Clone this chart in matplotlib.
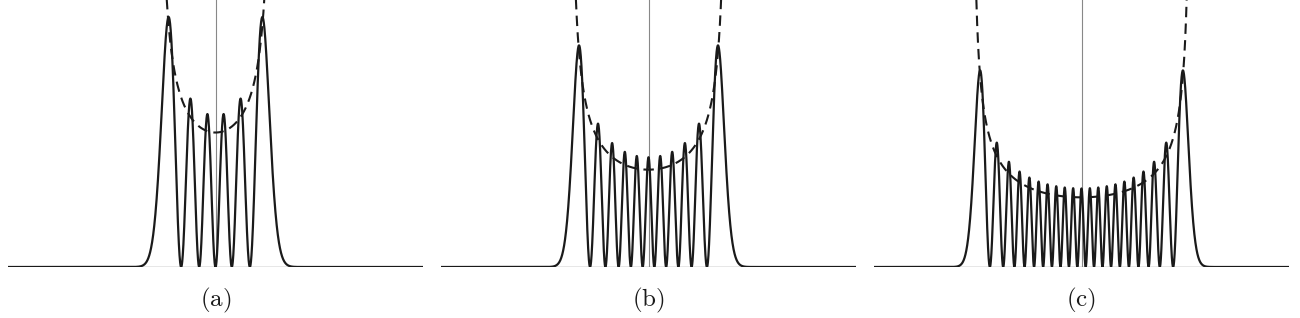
import numpy as np
import matplotlib.pyplot as plt

plt.rcParams['mathtext.fontset'] = 'cm'

# quantum numbers of the three panels and their captions
levels = [5, 10, 20]
captions = ['(a)', '(b)', '(c)']
x_half = 12.2


def psi_sq(n, x):
    # |psi_n|^2 for the harmonic oscillator (hbar = m = omega = 1)
    p0 = np.pi ** -0.25 * np.exp(-x ** 2 / 2)
    if n == 0:
        return p0 ** 2
    p1 = np.sqrt(2) * x * p0
    for k in range(1, n):
        p0, p1 = p1, np.sqrt(2 / (k + 1)) * x * p1 - np.sqrt(k / (k + 1)) * p0
    return p1 ** 2


def classical(n, x):
    # classical density, scaled the way the figure draws it
    a2 = 2 * n + 1
    out = np.full_like(x, np.nan)
    inside = x ** 2 < a2
    out[inside] = 1 / (np.sqrt(np.pi) * np.sqrt(a2 - x[inside] ** 2))
    return out


x = np.linspace(-x_half, x_half, 4000)
y_top = psi_sq(levels[0], x).max() * 267 / 250

fig = plt.figure(figsize=(13, 3.18), dpi=100)
lefts = [8, 441, 874]
for left, n, cap in zip(lefts, levels, captions):
    ax = fig.add_axes([left / 1300, 51 / 318, 415 / 1300, 267 / 318])
    ax.axhline(0, color='#888888', lw=1.0, zorder=1)
    ax.axvline(0, color='#888888', lw=0.8, zorder=1)
    ax.plot(x, psi_sq(n, x), color='#1a1a1a', lw=1.6, zorder=3)
    ax.plot(x, classical(n, x), color='#1a1a1a', lw=1.5, ls=(0, (5, 3)), zorder=2)
    ax.set_xlim(-x_half, x_half)
    ax.set_ylim(0, y_top)
    ax.axis('off')
    ax.text(0.5, -0.125, r'$\mathrm{' + cap + '}$', transform=ax.transAxes,
            ha='center', va='center', fontsize=18, color='#1a1a1a')

fig.savefig('out.png', dpi=100)
